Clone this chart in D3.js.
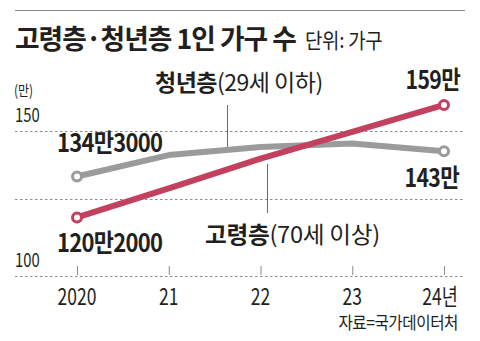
<!DOCTYPE html>
<html><head><meta charset="utf-8">
<script src="https://cdn.jsdelivr.net/npm/d3@7"></script>
<style>
body{margin:0;background:#fff;}
svg text{font-family:"Noto Sans CJK KR","Noto Sans",sans-serif;fill:#231f20;}
</style></head><body>
<svg id="c" width="480" height="341"></svg>
<script>
const years = ["2020","21","22","23","24년"];
const youth = [134.3, 141.7, 144.5, 145.7, 143];   // 청년층 (만)
const elder = [120.2, 130.2, 140.5, 149.7, 159];   // 고령층 (만)
const yTicks = [100, 150];
const gridValues = [100, 126.5, 150];
const youthLabels = ["134만3000", "143만"];
const elderLabels = ["120만2000", "159만"];

const svg = d3.select("#c");
const x = d3.scalePoint().domain(years).range([77, 444]);
const y = d3.scaleLinear().domain([100, 150]).range([276, 131]);

function txt(g, px, py, s, size, sx, opts={}){
  const t = g.append("text").attr("transform",`translate(${px},${py}) scale(${sx},1)`)
    .attr("font-size",size).text(s);
  if(opts.anchor) t.attr("text-anchor",opts.anchor);
  if(opts.weight) t.attr("font-weight",opts.weight);
  if(opts.ls!==undefined) t.attr("letter-spacing",opts.ls);
  if(opts.fill) t.attr("fill",opts.fill);
  return t;
}

// top rule
svg.append("line").attr("x1",15).attr("x2",465).attr("y1",10.5).attr("y2",10.5)
  .attr("stroke","#8a8a8a").attr("stroke-width",1);

// title
txt(svg,15,49,"고령층·청년층 1인 가구 수",27,0.99,{weight:700,ls:-1});
txt(svg,305,48,"단위: 가구",21,0.9,{ls:-0.3});

// grid
svg.append("g").selectAll("line").data(gridValues).join("line")
  .attr("x1",15).attr("x2",465)
  .attr("y1",d=>Math.round(y(d))+0.5).attr("y2",d=>Math.round(y(d))+0.5)
  .attr("stroke","#8c8c8c").attr("stroke-width",1).attr("stroke-dasharray","2.5,2.5");

// y tick labels
yTicks.forEach(v=>txt(svg,15,y(v)-9,String(v),19,0.78,{fill:"#3a3a3a"}));
txt(svg,14,96,"(만)",15,0.8,{fill:"#3a3a3a"});

// x axis ticks & labels
const xg = svg.append("g");
xg.selectAll("line").data(years).join("line")
  .attr("x1",d=>x(d)+0.5).attr("x2",d=>x(d)+0.5).attr("y1",266).attr("y2",275)
  .attr("stroke","#8c8c8c").attr("stroke-width",1);
years.forEach((d,i)=>txt(xg, i===4 ? x(d)-4 : x(d), 305, d, 23, 0.76, {anchor:"middle"}));

// callout lines
svg.append("line").attr("x1",227.5).attr("x2",227.5).attr("y1",105).attr("y2",147)
  .attr("stroke","#6a6a6a").attr("stroke-width",1);
svg.append("line").attr("x1",267.5).attr("x2",267.5).attr("y1",164).attr("y2",213)
  .attr("stroke","#6a6a6a").attr("stroke-width",1);

const line = d3.line().x((d,i)=>x(years[i])).y(d=>y(d));
const series = [{v:youth,c:"#9a9b9a"},{v:elder,c:"#c2415f"}];
series.forEach(s=>{
  svg.append("path").datum(s.v).attr("d",line).attr("fill","none")
    .attr("stroke",s.c).attr("stroke-width",6).attr("stroke-linejoin","round");
  svg.append("g").selectAll("circle").data([0,4]).join("circle")
    .attr("cx",i=>x(years[i])).attr("cy",i=>y(s.v[i])).attr("r",4.5)
    .attr("fill","#fff").attr("stroke",s.c).attr("stroke-width",3);
});

// series names
const n1 = txt(svg,155,91,"",23,1.0,{ls:-0.5});
n1.append("tspan").text("청년층").attr("font-weight",700);
n1.append("tspan").text("(29세 이하)");
const n2 = txt(svg,205,243,"",23,1.03,{ls:-0.3});
n2.append("tspan").text("고령층").attr("font-weight",700);
n2.append("tspan").text("(70세 이상)");

// value labels
const o = {weight:700, ls:-0.8};
txt(svg,57,152,youthLabels[0],25,0.88,o);
txt(svg,57,252,elderLabels[0],25,0.88,o);
txt(svg,460,89,elderLabels[1],25,0.85,{...o,anchor:"end"});
txt(svg,459,187,youthLabels[1],25,0.85,{...o,anchor:"end"});

// source
txt(svg,458,329,"자료=국가데이터처",17,0.92,{anchor:"end",ls:-0.5,fill:"#3a3a3a"});
</script>
</body></html>
